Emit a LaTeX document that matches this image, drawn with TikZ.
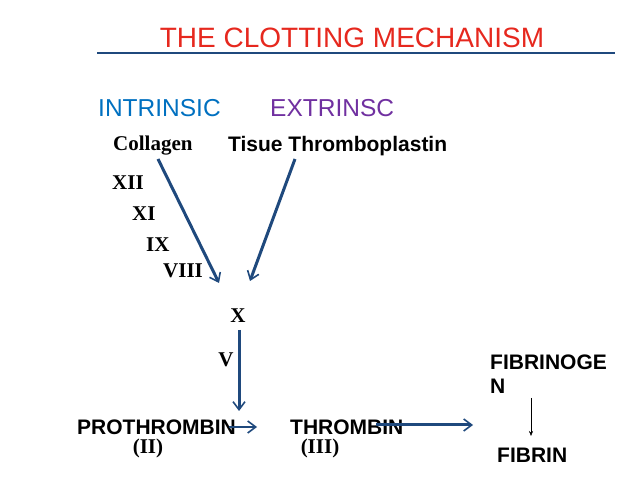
\documentclass[tikz,border=0pt]{standalone}
\usepackage{fontspec}
\setmainfont{Liberation Serif}
\setsansfont{Liberation Sans}
\usetikzlibrary{arrows.meta}
\definecolor{ln}{RGB}{31,73,125}
\definecolor{tred}{RGB}{230,40,30}
\definecolor{tblue}{RGB}{0,112,192}
\definecolor{tpurp}{RGB}{112,48,160}
\begin{document}
\begin{tikzpicture}[x=1pt,y=-1pt,
  sf/.style={font=\sffamily\fontsize{21}{24}\selectfont\bfseries,inner sep=0pt},
  rm/.style={font=\rmfamily\fontsize{21}{24}\selectfont\bfseries,inner sep=0pt},
  arr/.style={draw=ln,line width=3pt,-{Straight Barb[length=8pt,width=12pt,line width=1.6pt]}}]
\useasboundingbox (0,0) rectangle (638,478);
\node[text=tred,font=\sffamily\fontsize{28}{32}\selectfont] (title) at (352,38) {THE CLOTTING MECHANISM};
\draw[ln,line width=2.5pt] (97,53) -- (615,53);
\node[anchor=west,inner sep=0pt,text=tblue,font=\sffamily\fontsize{24.5}{28}\selectfont] (intr) at (98,108) {INTRINSIC};
\node[anchor=west,inner sep=0pt,text=tpurp,font=\sffamily\fontsize{24.5}{28}\selectfont] (extr) at (270,108) {EXTRINSC};
\node[rm,anchor=west] (col) at (113,146) {Collagen};
\node[sf,anchor=west] (tis) at (228,146) {Tisue Thromboplastin};
\node[rm,anchor=west] (xii) at (112,183) {XII};
\node[rm,anchor=west] (xi) at (132,214) {XI};
\node[rm,anchor=west] (ix) at (146,245) {IX};
\node[rm,anchor=west] (viii) at (163,271) {VIII};
\node[rm] (x) at (238,316) {X};
\node[rm] (v) at (226,360) {V};
\node[sf,anchor=west] (pro) at (77,427) {PROTHROMBIN};
\node[rm] (ii) at (148,448) {(II)};
\node[sf,anchor=west] (thr) at (290,427) {THROMBIN};
\node[rm] (iii) at (320,448) {(III)};
\node[sf,anchor=west] (fgn) at (490,362) {FIBRINOGE};
\node[sf,anchor=west] (n) at (490,386) {N};
\node[sf,anchor=west] (fib) at (497,455) {FIBRIN};
\coordinate (c1) at (158,159); \coordinate (c2) at (219,283);
\coordinate (t1) at (295,159); \coordinate (t2) at (250,281);
\coordinate (x1) at (239,330); \coordinate (x2) at (239,411);
\coordinate (p1) at (229,427); \coordinate (p2) at (257,427);
\coordinate (h1) at (376,425); \coordinate (h2) at (473,425);
\coordinate (f1) at (531,398); \coordinate (f2) at (531,436);
\draw[arr] (c1) -- (c2);
\draw[arr] (t1) -- (t2);
\draw[arr,line width=2pt] (p1) -- (p2);
\draw[arr] (x1) -- (x2);
\draw[arr] (h1) -- (h2);
\draw[-{Stealth[length=5pt,width=4pt]},thin] (f1) -- (f2);
\end{tikzpicture}
\end{document}
